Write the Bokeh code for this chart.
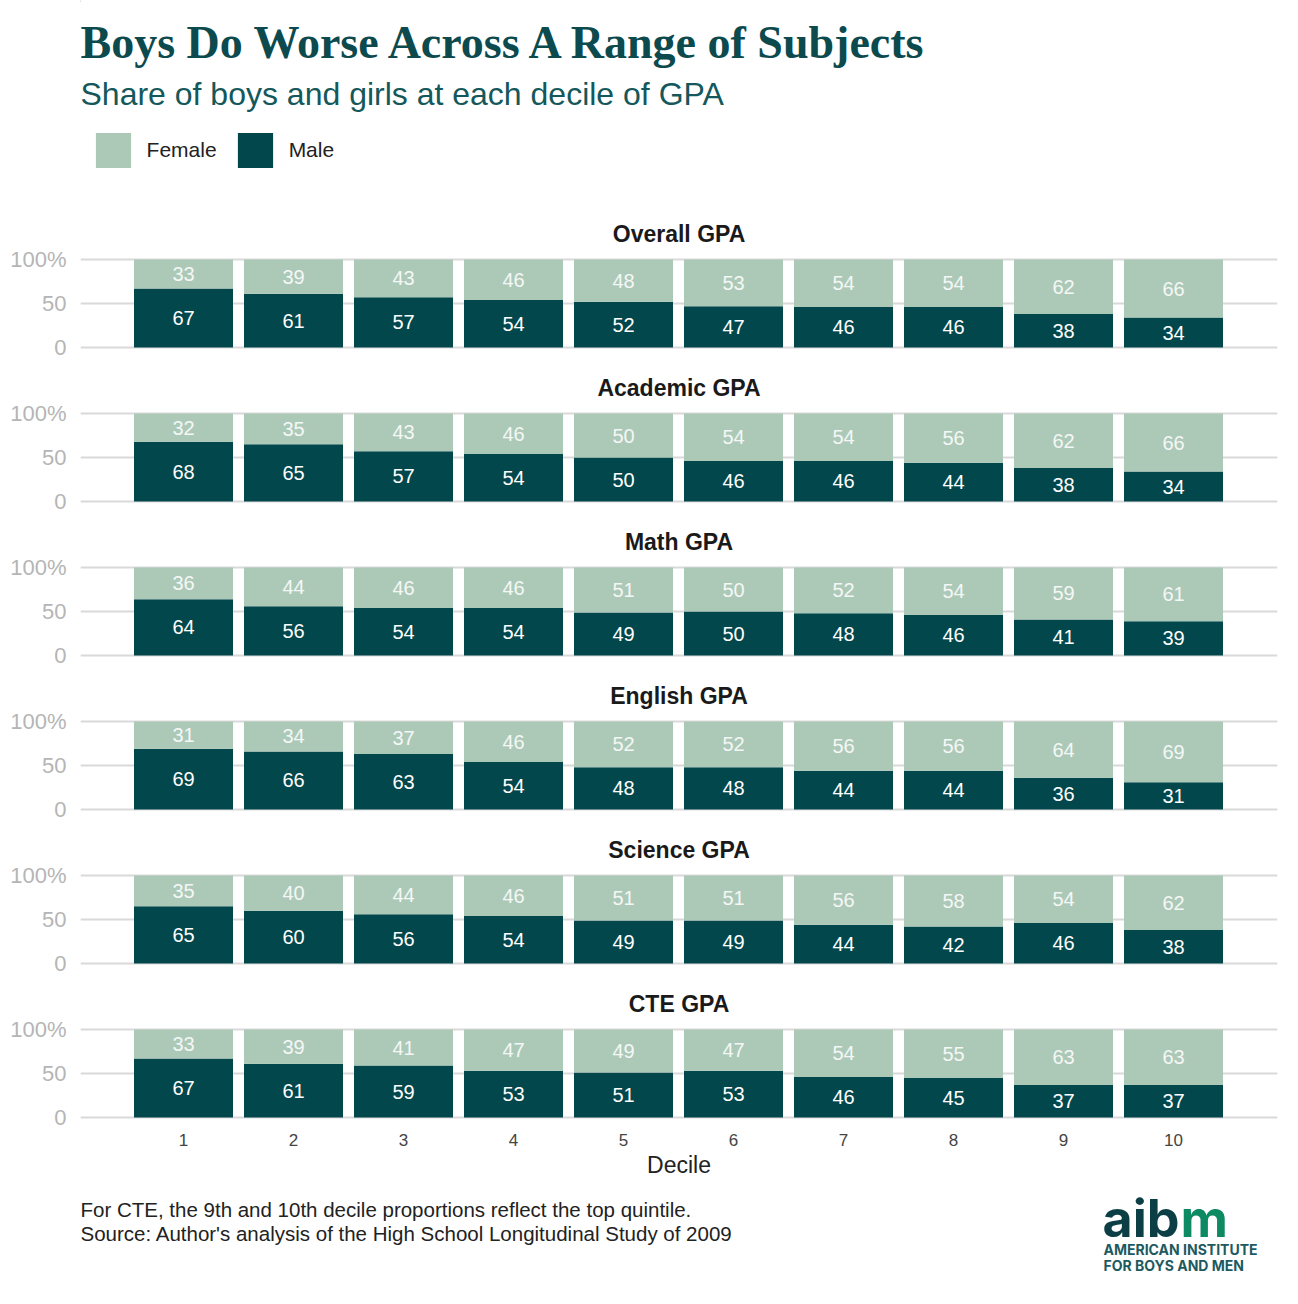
from bokeh.plotting import figure
from bokeh.layouts import column
from bokeh.models import ColumnDataSource, Range1d, FixedTicker, Legend, LegendItem
from bokeh.core.properties import value
from bokeh.embed import file_html
from bokeh.resources import INLINE

# ---- data -----------------------------------------------------------------
deciles = [1, 2, 3, 4, 5, 6, 7, 8, 9, 10]
subjects = ["Overall GPA", "Academic GPA", "Math GPA", "English GPA", "Science GPA", "CTE GPA"]

male_overall = [67, 61, 57, 54, 52, 47, 46, 46, 38, 34]
female_overall = [33, 39, 43, 46, 48, 53, 54, 54, 62, 66]

male_academic = [68, 65, 57, 54, 50, 46, 46, 44, 38, 34]
female_academic = [32, 35, 43, 46, 50, 54, 54, 56, 62, 66]

male_math = [64, 56, 54, 54, 49, 50, 48, 46, 41, 39]
female_math = [36, 44, 46, 46, 51, 50, 52, 54, 59, 61]

male_english = [69, 66, 63, 54, 48, 48, 44, 44, 36, 31]
female_english = [31, 34, 37, 46, 52, 52, 56, 56, 64, 69]

male_science = [65, 60, 56, 54, 49, 49, 44, 42, 46, 38]
female_science = [35, 40, 44, 46, 51, 51, 56, 58, 54, 62]

male_cte = [67, 61, 59, 53, 51, 53, 46, 45, 37, 37]
female_cte = [33, 39, 41, 47, 49, 47, 54, 55, 63, 63]

male_series = [male_overall, male_academic, male_math, male_english, male_science, male_cte]
female_series = [female_overall, female_academic, female_math, female_english, female_science, female_cte]

y_ticks = [0, 50, 100]
y_tick_labels = {0: "0", 50: "50", 100: "100%"}

TITLE = "Boys Do Worse Across A Range of Subjects"
SUBTITLE = "Share of boys and girls at each decile of GPA"
NOTE_1 = "For CTE, the 9th and 10th decile proportions reflect the top quintile."
NOTE_2 = "Source: Author's analysis of the High School Longitudinal Study of 2009"

# ---- style ----------------------------------------------------------------
MALE = "#02474c"
FEMALE = "#acc9b8"
TEAL_TEXT = "#0c4a4e"
GRID = "#d9d9d9"
SANS = "Liberation Sans"

W = 1298
H = 1304
LEFT, RIGHT = 80, 21
PX_PER_PT = 0.88          # pixels per percentage point
TOP_GAP = 46              # pixels between panel top and the 100% line
PANEL_H = 154
LAST_BOTTOM = 66          # room under the last panel for the decile axis
LAST_FRAME = 136
LAST_H = LAST_FRAME + LAST_BOTTOM
HEADER_H = 213
FOOTER_TOP = HEADER_H + 5 * PANEL_H + LAST_H
FOOTER_H = H - FOOTER_TOP

X0 = 1 - 103 / 110
X1 = 10 + 104 / 110
Y_TOP = 100 + TOP_GAP / PX_PER_PT


def blank(p):
    p.outline_line_color = None
    p.background_fill_color = "white"
    p.border_fill_color = "white"
    p.xgrid.visible = False
    p.ygrid.visible = False


def panel(name, male, female, last=False):
    h = LAST_H if last else PANEL_H
    y_bottom = -2 / PX_PER_PT if last else -(PANEL_H - TOP_GAP - 100 * PX_PER_PT) / PX_PER_PT
    p = figure(width=W, height=h,
               x_range=Range1d(X0, X1), y_range=Range1d(y_bottom, Y_TOP),
               output_backend="svg", toolbar_location=None,
               min_border_left=LEFT, min_border_right=RIGHT,
               min_border_top=0, min_border_bottom=LAST_BOTTOM if last else 0,
               x_axis_location="below" if last else None)
    p.outline_line_color = None
    p.background_fill_color = "white"
    p.border_fill_color = "white"

    total = [m + f for m, f in zip(male, female)]
    src = ColumnDataSource(dict(
        x=deciles, male=male, female=female, total=total,
        male_mid=[m / 2 for m in male],
        fem_mid=[m + f / 2 for m, f in zip(male, female)],
        male_lbl=[str(m) for m in male],
        fem_lbl=[str(f) for f in female],
    ))
    p.vbar(x="x", bottom=0, top="male", width=0.9, fill_color=MALE,
           line_color=None, source=src)
    p.vbar(x="x", bottom="male", top="total", width=0.9, fill_color=FEMALE,
           line_color=None, source=src)
    p.text(x="x", y="male_mid", text="male_lbl", source=src,
           text_font=value(SANS), text_font_size="20px", text_color="#ffffff",
           text_align="center", text_baseline="middle")
    p.text(x="x", y="fem_mid", text="fem_lbl", source=src,
           text_font=value(SANS), text_font_size="20px", text_color="#f4f7f5",
           text_align="center", text_baseline="middle")

    # facet strip title
    p.text(x=[(X0 + X1) / 2], y=[100 + 26 / PX_PER_PT], text=[name],
           text_font=value(SANS), text_font_style="bold", text_font_size="23px",
           text_color="#1a1a1a", text_align="center", text_baseline="middle")

    p.xgrid.visible = False
    p.ygrid.ticker = FixedTicker(ticks=y_ticks)
    p.ygrid.grid_line_color = GRID
    p.ygrid.grid_line_width = 2

    ya = p.yaxis[0]
    ya.ticker = FixedTicker(ticks=y_ticks)
    ya.major_label_overrides = y_tick_labels
    ya.axis_line_color = None
    ya.major_tick_line_color = None
    ya.minor_tick_line_color = None
    ya.major_tick_out = 0
    ya.major_tick_in = 0
    ya.major_label_standoff = 14
    ya.major_label_text_font = SANS
    ya.major_label_text_font_size = "22px"
    ya.major_label_text_color = "#b5b5b5"

    if last:
        xa = p.xaxis[0]
        xa.ticker = FixedTicker(ticks=deciles)
        xa.axis_line_color = None
        xa.major_tick_line_color = None
        xa.minor_tick_line_color = None
        xa.major_tick_out = 0
        xa.major_tick_in = 0
        xa.major_label_standoff = 14
        xa.major_label_text_font = SANS
        xa.major_label_text_font_size = "17px"
        xa.major_label_text_color = "#444444"
        xa.axis_label = "Decile"
        xa.axis_label_standoff = 3
        xa.axis_label_text_font = SANS
        xa.axis_label_text_font_size = "23px"
        xa.axis_label_text_font_style = "normal"
        xa.axis_label_text_color = "#222222"
    return p


def canvas(top, h):
    # plain drawing area whose data units are page pixels in both directions
    c = figure(width=W, height=h, x_range=Range1d(LEFT, W - RIGHT),
               y_range=Range1d(top + h, top),
               output_backend="svg", toolbar_location=None,
               x_axis_location=None, y_axis_location=None,
               min_border_left=LEFT, min_border_right=RIGHT,
               min_border_top=0, min_border_bottom=0)
    blank(c)
    return c


# ---- header: title, subtitle, legend --------------------------------------
head = canvas(0, HEADER_H)
head.text(x=[80], y=[42], text=[TITLE], text_font=value("Liberation Serif"),
          text_font_style="bold", text_font_size="46px", text_color=TEAL_TEXT,
          text_baseline="middle")
head.text(x=[80], y=[93], text=[SUBTITLE], text_font=value(SANS),
          text_font_size="32px", text_color="#14585b", text_baseline="middle")

r_f = head.vbar(x=[-100], top=[1], width=1, fill_color=FEMALE, line_color=None)
r_m = head.vbar(x=[-100], top=[1], width=1, fill_color=MALE, line_color=None)
legend = Legend(items=[LegendItem(label="Female", renderers=[r_f]),
                       LegendItem(label="Male", renderers=[r_m])],
                location=(10.6, 40.6), orientation="horizontal",
                glyph_width=44, glyph_height=44, label_standoff=12, spacing=16,
                padding=0, margin=0, border_line_alpha=0, background_fill_alpha=0,
                label_text_font=SANS, label_text_font_size="21px",
                label_text_color="#222222", label_height=44)
head.add_layout(legend)

# ---- facets ---------------------------------------------------------------
panels = [panel(name, m, f, last=(i == len(subjects) - 1))
          for i, (name, m, f) in enumerate(zip(subjects, male_series, female_series))]

# ---- footer: notes and logo -----------------------------------------------
foot = canvas(FOOTER_TOP, FOOTER_H)
foot.text(x=[80, 80], y=[1209, 1233], text=[NOTE_1, NOTE_2], text_font=value(SANS),
          text_font_size="20.5px", text_color="#222222", text_baseline="middle")
foot.text(x=[1102], y=[1218], text=["aib"], text_font=value("Inter"), text_font_style="bold",
          text_font_size="52px", text_color="#0b3f45", text_baseline="middle")
foot.text(x=[1180], y=[1218], text=["m"], text_font=value("Inter"), text_font_style="bold",
          text_font_size="52px", text_color="#0e8a62", text_baseline="middle")
foot.text(x=[1103, 1103], y=[1249, 1265], text=["AMERICAN INSTITUTE", "FOR BOYS AND MEN"],
          text_font=value("Inter"), text_font_style="bold", text_font_size="14px",
          text_color="#1d5a60", text_baseline="middle")

layout = column(head, *panels, foot, spacing=0)
open("out.html", "w").write(file_html(layout, INLINE))
